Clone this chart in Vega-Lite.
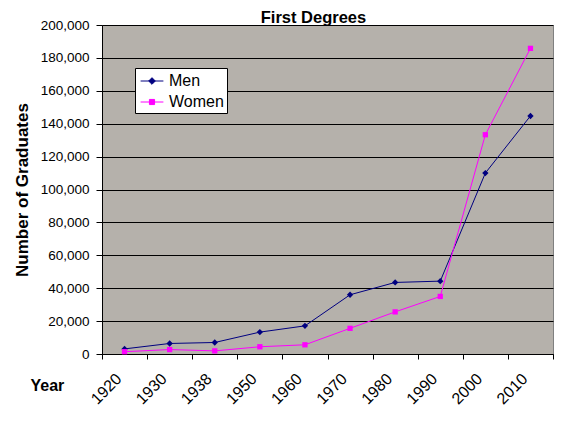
{
  "$schema": "https://vega.github.io/schema/vega-lite/v6.json",
  "autosize": {"type": "none"},
  "padding": {"left": 102, "top": 25, "right": 13, "bottom": 69},
  "width": 451,
  "height": 329,
  "background": "white",
  "title": {
    "text": "First Degrees",
    "font": "Liberation Sans",
    "fontSize": 16.5,
    "fontWeight": "bold",
    "color": "black",
    "anchor": "middle",
    "dx": -14,
    "dy": 25,
    "baseline": "bottom",
    "offset": 1
  },
  "data": {
    "values": [
      {"year": "1920", "group": "Men", "n": 3100},
      {"year": "1930", "group": "Men", "n": 6400},
      {"year": "1938", "group": "Men", "n": 7000},
      {"year": "1950", "group": "Men", "n": 13300},
      {"year": "1960", "group": "Men", "n": 17100},
      {"year": "1970", "group": "Men", "n": 36000},
      {"year": "1980", "group": "Men", "n": 43500},
      {"year": "1990", "group": "Men", "n": 44300},
      {"year": "2000", "group": "Men", "n": 110000},
      {"year": "2010", "group": "Men", "n": 144700},
      {"year": "1920", "group": "Women", "n": 1400},
      {"year": "1930", "group": "Women", "n": 2700},
      {"year": "1938", "group": "Women", "n": 1900},
      {"year": "1950", "group": "Women", "n": 4400},
      {"year": "1960", "group": "Women", "n": 5600},
      {"year": "1970", "group": "Women", "n": 15600},
      {"year": "1980", "group": "Women", "n": 25600},
      {"year": "1990", "group": "Women", "n": 35000},
      {"year": "2000", "group": "Women", "n": 133300},
      {"year": "2010", "group": "Women", "n": 185800}
    ]
  },
  "encoding": {
    "x": {
      "field": "year",
      "type": "ordinal",
      "bandPosition": 0.5,
      "scale": {"type": "band", "paddingInner": 0, "paddingOuter": 0},
      "axis": {
        "title": "Year",
        "titleFont": "Liberation Sans",
        "titleFontSize": 16,
        "titleFontWeight": "bold",
        "titleColor": "black",
        "titleAlign": "left",
        "titleBaseline": "alphabetic",
        "titleX": -72,
        "titleY": 36,
        "labelAngle": -45,
        "labelAlign": "right",
        "labelBaseline": "middle",
        "labelPadding": 17,
        "labelOffset": -6,
        "labelFont": "Liberation Sans",
        "labelFontSize": 16,
        "labelColor": "black",
        "tickBand": "extent",
        "tickSize": 5,
        "tickColor": "black",
        "domainColor": "black",
        "grid": false
      }
    },
    "y": {
      "field": "n",
      "type": "quantitative",
      "scale": {"domain": [0, 200000]},
      "axis": {
        "title": "Number of Graduates",
        "titleFont": "Liberation Sans",
        "titleFontSize": 17,
        "titleFontWeight": "bold",
        "titleColor": "black",
        "titlePadding": 9,
        "values": [0, 20000, 40000, 60000, 80000, 100000, 120000, 140000, 160000, 180000, 200000],
        "format": ",.0f",
        "labelFont": "Liberation Sans",
        "labelFontSize": 13.5,
        "labelColor": "black",
        "labelPadding": 7,
        "tickSize": 6,
        "tickColor": "black",
        "domainColor": "black",
        "grid": true,
        "gridColor": "black",
        "gridOpacity": 1
      }
    },
    "color": {
      "field": "group",
      "type": "nominal",
      "scale": {"domain": ["Men", "Women"], "range": ["#000080", "#ff00ff"]},
      "legend": {
        "title": null,
        "orient": "none",
        "legendX": 33,
        "legendY": 43,
        "fillColor": "white",
        "strokeColor": "black",
        "padding": 3,
        "labelFont": "Liberation Sans",
        "labelFontSize": 16,
        "labelColor": "black",
        "labelOffset": 7,
        "symbolOffset": 4,
        "rowPadding": 3,
        "symbolSize": 361,
        "symbolStrokeWidth": 1,
        "encode": {
          "symbols": {
            "update": {
              "shape": {"signal": "datum.value === 'Men' ? 'M-1.2,0H1.2M0,-0.35L0.35,0L0,0.35L-0.35,0Z' : 'M-1.2,0H1.2M-0.27,-0.27H0.27V0.27H-0.27Z'"},
              "fill": {"signal": "datum.value === 'Men' ? '#000080' : '#ff00ff'"},
              "stroke": {"signal": "datum.value === 'Men' ? '#000080' : '#ff00ff'"},
              "fillOpacity": {"value": 1},
              "strokeOpacity": {"value": 1},
              "opacity": {"value": 1}
            }
          }
        }
      }
    }
  },
  "layer": [
    {
      "mark": {"type": "line", "strokeWidth": 1}
    },
    {
      "transform": [{"filter": "datum.group === 'Men'"}],
      "mark": {"type": "point", "filled": true, "opacity": 1, "shape": "diamond", "size": 40}
    },
    {
      "transform": [{"filter": "datum.group === 'Women'"}],
      "mark": {"type": "point", "filled": true, "opacity": 1, "shape": "square", "size": 28}
    }
  ],
  "config": {
    "view": {"fill": "#b5b1ab", "stroke": "#808080"},
    "font": "Liberation Sans"
  }
}
